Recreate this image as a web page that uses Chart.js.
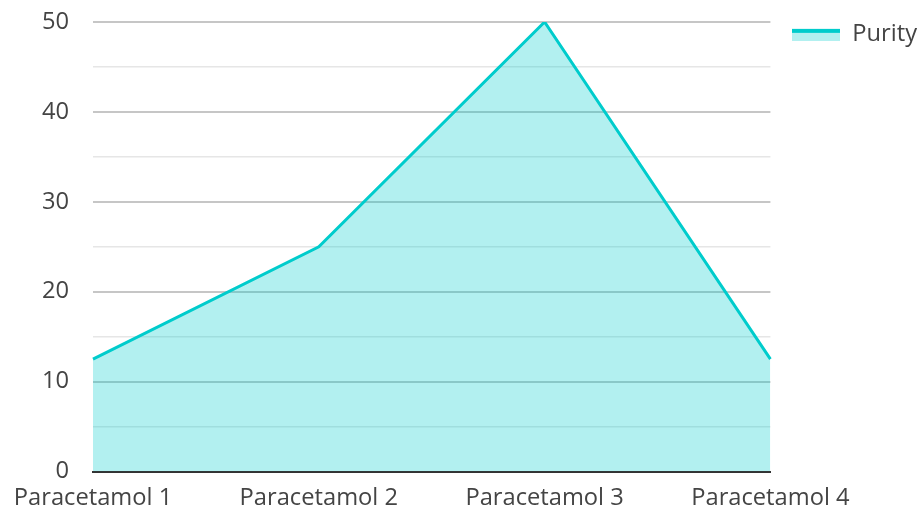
<!DOCTYPE html>
<html>
<head>
<meta charset="utf-8">
<script src="https://cdn.jsdelivr.net/npm/chart.js@4"></script>
<style>
  html, body { margin: 0; padding: 0; background: #fff; }
  #wrap { width: 917px; height: 511px; }
</style>
</head>
<body>
<div id="wrap"><canvas id="chart"></canvas></div>
<script>
const categories = ['Paracetamol 1', 'Paracetamol 2', 'Paracetamol 3', 'Paracetamol 4'];
const purity = [12.5, 25, 50, 12.5];
const seriesName = 'Purity';

const lineColor = '#00cccc';
const fillColor = 'rgba(0, 204, 204, 0.3)';
const font = { family: '"Open Sans", "Noto Sans", sans-serif', size: 23.7 };

// legend swatch: line on top, light fill under it
function makeSwatch() {
  const c = document.createElement('canvas');
  c.width = 48; c.height = 14;
  const g = c.getContext('2d');
  g.fillStyle = fillColor;
  g.fillRect(0, 2, 48, 12);
  g.fillStyle = lineColor;
  g.fillRect(0, 2, 48, 4);
  return c;
}

new Chart(document.getElementById('chart'), {
  type: 'line',
  data: {
    labels: categories,
    datasets: [{
      label: seriesName,
      data: purity,
      borderColor: lineColor,
      backgroundColor: fillColor,
      borderWidth: 3,
      fill: 'origin',
      tension: 0,
      pointRadius: 0,
      pointStyle: makeSwatch()
    }]
  },
  options: {
    responsive: true,
    maintainAspectRatio: false,
    animation: false,
    layout: { padding: { top: 0, right: -10, left: 0, bottom: -5 } },
    plugins: {
      legend: {
        position: 'right',
        align: 'start',
        labels: { usePointStyle: true, pointStyleWidth: 48, padding: 22, font: font, color: '#444' }
      },
      tooltip: { enabled: false }
    },
    scales: {
      x: {
        offset: false,
        grid: { display: false },
        border: { display: true, color: '#333', width: 2 },
        ticks: { padding: 4, maxRotation: 0, font: font, color: '#444' }
      },
      y: {
        min: 0,
        max: 50,
        border: { display: false },
        afterFit: s => {
          s.width = 93;
          s.paddingTop = 22;
          s.paddingBottom = 0;
        },
        grid: {
          drawTicks: false,
          color: ctx => ctx.tick && ctx.tick.value % 10 === 0 ? '#c6c6c6' : '#e6e6e6',
          lineWidth: ctx => ctx.tick && ctx.tick.value % 10 === 0 ? 2 : 1.5
        },
        ticks: {
          stepSize: 5,
          padding: 24,
          font: font,
          color: '#444',
          callback: v => v % 10 === 0 ? v : ''
        }
      }
    }
  }
});
</script>
</body>
</html>
